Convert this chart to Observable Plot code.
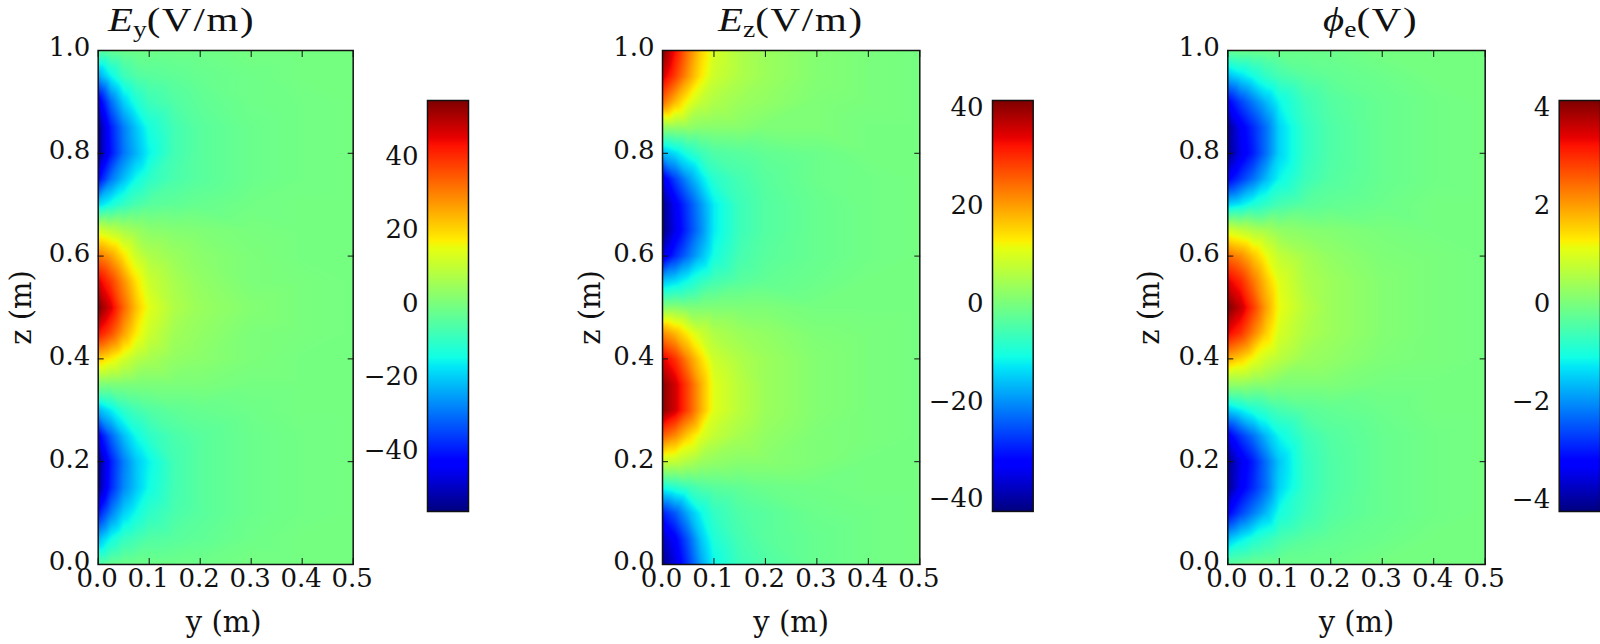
<!DOCTYPE html>
<html><head><meta charset="utf-8">
<script src="https://cdn.jsdelivr.net/npm/d3@7"></script>
<script src="https://cdn.jsdelivr.net/npm/@observablehq/plot@0.6"></script>
<style>
html,body{margin:0;background:#fff;overflow:hidden}
#page{position:relative;width:1600px;height:644px;overflow:hidden}
#page>svg,#page>figure{position:absolute;top:0;margin:0}
.ttl{position:absolute;white-space:nowrap;font-family:"Liberation Serif",serif;color:#111;line-height:1;font-size:34px;transform:scaleX(1.2);transform-origin:left top}
.ttl sub{font-size:23px;line-height:0;vertical-align:-6px}
.ttl .u{letter-spacing:1.5px}
</style></head><body><div id="page"></div>
<script>
// grid positions of the sampled field values
const yCols = [0, 0.025, 0.05, 0.075, 0.1, 0.15, 0.2, 0.3, 0.4, 0.5];
const zRows = [1, .95, .9, .85, .8, .75, .7, .65, .6, .55, .5, .45, .4, .35, .3, .25, .2, .15, .1, .05, 0];

const Ey = [
[-4,-2,-1,-1,-1,-1,-1,0,0,0],
[-24,-15,-8,-5,-4,-3,-2,-1,0,0],
[-46,-30,-19,-12,-8,-5,-3,-1,-.5,0],
[-55,-39,-28,-20,-13,-7,-4,-1.5,-.5,0],
[-55,-40,-29,-22,-15,-7,-4,-1.5,-.5,0],
[-42,-29,-21,-14,-10,-6,-4,-1.5,-.5,0],
[-18,-13,-9,-6,-4,-3,-2,-.5,0,0],
[13,10,7,5,3,2,1.5,.5,0,0],
[32,27,19,12,8,5,3,1,0,0],
[47,39,29,19,12,7,4,1,.5,0],
[56,47,34,23,15,8,5,2,.5,0],
[44,37,27,18,12,6,4,1,.5,0],
[22,18,13,9,7,4,3,1,0,0],
[1,1,1,1,1,1,1,0,0,0],
[-22,-16,-10,-7,-5,-3,-2,-1,0,0],
[-44,-31,-21,-14,-10,-6,-4,-1.5,-.5,0],
[-55,-39,-28,-20,-15,-7,-4,-1.5,-.5,0],
[-54,-38,-27,-20,-14,-7,-4,-1.5,-.5,0],
[-40,-28,-19,-14,-10,-6,-4,-1.5,-.5,0],
[-22,-14,-9,-7,-5,-4,-3,-1,0,0],
[-5,-2,-1,-1,-1,-1,-1,0,0,0]];

const Ez = [
[42,33,24,16,10,6,4,1.5,.5,0],
[36,29,21,14,9,6,4,1.5,.5,0],
[25,18,12,8,6,4,3,1,.5,0],
[3,3,3,2,2,2,1,1,0,0],
[-16,-13,-9,-6,-4,-3,-2,-1,0,0],
[-34,-26,-19,-13,-8,-5,-3,-1,-.5,0],
[-41,-33,-26,-19,-12,-6,-3.5,-1.5,-.5,0],
[-42,-34,-27,-20,-12,-6,-3.5,-1.5,-.5,0],
[-35,-28,-22,-16,-10,-5,-3,-1.5,-.5,0],
[-15,-13,-10,-7,-5,-3,-2,-1,0,0],
[2,2,1,1,1,1,1,0,0,0],
[22,18,13,9,6,4,3,1,.5,0],
[35,30,22,15,9,6,4,1.5,.5,0],
[41,36,28,19,11,7,4,1.5,.5,0],
[41,36,28,19,11,7,4,1.5,.5,0],
[26,22,16,11,8,5,3,1,.5,0],
[9,8,6,4,3,2,2,1,0,0],
[-10,-8,-6,-4,-3,-2,-1,-.5,0,0],
[-29,-24,-17,-11,-7,-4,-3,-1,-.5,0],
[-37,-32,-24,-15,-9,-5,-3,-1.5,-.5,0],
[-41,-35,-27,-18,-11,-6,-4,-1.5,-.5,0]];

const Phi = [
[-.2,-.1,-.1,-.1,-.1,-.1,-.1,0,0,0],
[-1.6,-1.3,-1,-.7,-.5,-.3,-.2,-.1,0,0],
[-3.2,-2.6,-2.1,-1.6,-1.1,-.6,-.35,-.15,-.05,0],
[-4.1,-3.3,-2.8,-2.2,-1.4,-.7,-.4,-.15,-.05,0],
[-4.1,-3.4,-2.9,-2.2,-1.4,-.7,-.4,-.15,-.05,0],
[-3.2,-2.7,-2.2,-1.6,-1.1,-.6,-.35,-.15,-.05,0],
[-1.4,-1.2,-.9,-.7,-.5,-.3,-.2,-.1,0,0],
[1,.8,.6,.5,.3,.2,.15,.05,0,0],
[2.5,2.2,1.7,1.2,.8,.5,.3,.1,.05,0],
[3.5,3.1,2.4,1.7,1.1,.6,.4,.15,.05,0],
[4.2,3.7,2.9,2,1.2,.7,.4,.15,.05,0],
[3.4,3,2.3,1.6,1,.6,.4,.15,.05,0],
[1.9,1.6,1.2,.9,.7,.4,.3,.1,.05,0],
[.3,.3,.2,.2,.1,.1,.1,0,0,0],
[-1.5,-1.2,-.9,-.7,-.5,-.3,-.2,-.1,0,0],
[-3.3,-2.7,-2.2,-1.6,-1.1,-.6,-.35,-.15,-.05,0],
[-4.1,-3.4,-2.9,-2.2,-1.5,-.7,-.4,-.15,-.05,0],
[-4.1,-3.3,-2.8,-2.2,-1.4,-.7,-.4,-.15,-.05,0],
[-3.2,-2.6,-2.1,-1.6,-1,-.6,-.35,-.15,-.05,0],
[-1.6,-1.2,-.9,-.7,-.5,-.3,-.2,-.1,0,0],
[-.3,-.2,-.1,-.1,-.1,-.1,-.1,0,0,0]];

// jet colour stops (position 0..1, colour)
const jetPos = [0, .11, .125, .35, .375, .64, .66, .89, .91, 1];
const jetCol = ["#00007f","#0000ff","#0000ff","#00e5f8","#10ffe6","#e6ff10","#ffee00","#ff1200","#e80000","#7f0000"];

const xTicks = [0, .1, .2, .3, .4, .5];
const zTicks = [0, .2, .4, .6, .8, 1];
const barTicksEy = [-40, -20, 0, 20, 40];
const barTicksEz = [-40, -20, 0, 20, 40];
const barTicksPhi = [-4, -2, 0, 2, 4];
const rangeEy = 56, rangeEz = 42, rangePhi = 4.2;

const FONT = '"DejaVu Serif", serif';
const page = document.getElementById("page");
const colorOf = M => ({type:"linear", domain: jetPos.map(t => -M + 2*M*t), range: jetCol, clamp:true});
const place = (el,left) => { el.style.left = left + "px"; page.appendChild(el); };

function panel({left, frameL, frameR, values, M, zDx, yDx}) {
  const cells = zRows.flatMap((z,i) => yCols.map((y,j) => ({y, z, v: values[i][j]})));
  const W = frameR - left + 40;
  const svg = Plot.plot({
    width: W, height: 644,
    marginLeft: frameL - left, marginRight: W - (frameR - left), marginTop: 50, marginBottom: 80,
    style: {fontFamily: FONT, fontSize: "26px", background: "transparent", color:"#111", overflow:"visible"},
    x: {domain:[0,.5], axis:null}, y: {domain:[0,1], axis:null},
    color: colorOf(M),
    marks: [
      Plot.raster(cells, {x:"y", y:"z", fill:"v", interpolate:"barycentric", x1:0, x2:.5, y1:0, y2:1, pixelSize:1}),
      Plot.axisX({ticks:xTicks, anchor:"bottom", tickSize:-6, tickFormat:()=>"" , stroke:"#111", label:null}),
      Plot.axisX({ticks:xTicks, anchor:"top", tickSize:-6, tickFormat:()=>"", stroke:"#111", label:null}),
      Plot.axisY({ticks:zTicks, anchor:"left", tickSize:-6, tickFormat:()=>"", stroke:"#111", label:null}),
      Plot.axisY({ticks:zTicks, anchor:"right", tickSize:-6, tickFormat:()=>"", stroke:"#111", label:null}),
      Plot.axisX({ticks:xTicks, anchor:"bottom", tickSize:0, tickPadding:4, dx:-1, tickFormat:d3.format(".1f"), label:null}),
      Plot.axisY({ticks:zTicks, anchor:"left", tickSize:0, tickPadding:8, dy:-2.5, tickFormat:d3.format(".1f"), label:null}),
      Plot.frame({stroke:"#111", strokeWidth:1.5}),
      Plot.text(["y (m)"], {frameAnchor:"bottom", dy:68, dx:yDx, fontSize:29, fill:"#111"}),
      Plot.text(["z (m)"], {frameAnchor:"left", textAnchor:"middle", rotate:-90, dx:zDx, fontSize:29, fill:"#111"})
    ]
  });
  place(svg, left);
}

function colorbar({left, barL, barR, M, ticks}) {
  const W = Math.min(barR - left, 1600 - left);
  const svg = Plot.plot({
    width: W, height: 644,
    marginLeft: barL - left, marginRight: W - (barR - left), marginTop: 100, marginBottom: 133,
    style: {fontFamily: FONT, fontSize: "26px", background: "transparent", color:"#111", overflow:"visible"},
    x: {domain:[0,1], axis:null}, y: {domain:[-M,M], axis:null},
    color: colorOf(M),
    marks: [
      Plot.raster({fill:(x,y)=>y, x1:0, x2:1, y1:-M, y2:M, pixelSize:1}),
      Plot.axisY({ticks, anchor:"left", tickSize:0, tickPadding:9, dy:-2.5, tickFormat:d3.format("d"), label:null}),
      Plot.frame({stroke:"#111", strokeWidth:1.5})
    ]
  });
  place(svg, left);
}

function title(html, left, top) {
  const d = document.createElement("div");
  d.className = "ttl"; d.innerHTML = html;
  d.style.left = left + "px"; d.style.top = top + "px";
  page.appendChild(d);
}

panel({left:0, frameL:97.7, frameR:352.7, values:Ey, M:rangeEy, zDx:-76, yDx:-2});
colorbar({left:370, barL:427, barR:468, M:rangeEy, ticks:barTicksEy});
panel({left:560, frameL:662, frameR:919.3, values:Ez, M:rangeEz, zDx:-72, yDx:0});
colorbar({left:930, barL:992, barR:1032.7, M:rangeEz, ticks:barTicksEz});
panel({left:1120, frameL:1227.3, frameR:1484.7, values:Phi, M:rangePhi, zDx:-78, yDx:0});
colorbar({left:1500, barL:1558.7, barR:1600, M:rangePhi, ticks:barTicksPhi});

title('<i>E</i><sub>y</sub><span class="u">(V/m)</span>', 108, 3);
title('<i>E</i><sub>z</sub><span class="u">(V/m)</span>', 718, 3);
title('<i>ϕ</i><sub>e</sub><span class="u">(V)</span>', 1323, 3);
</script></body></html>
